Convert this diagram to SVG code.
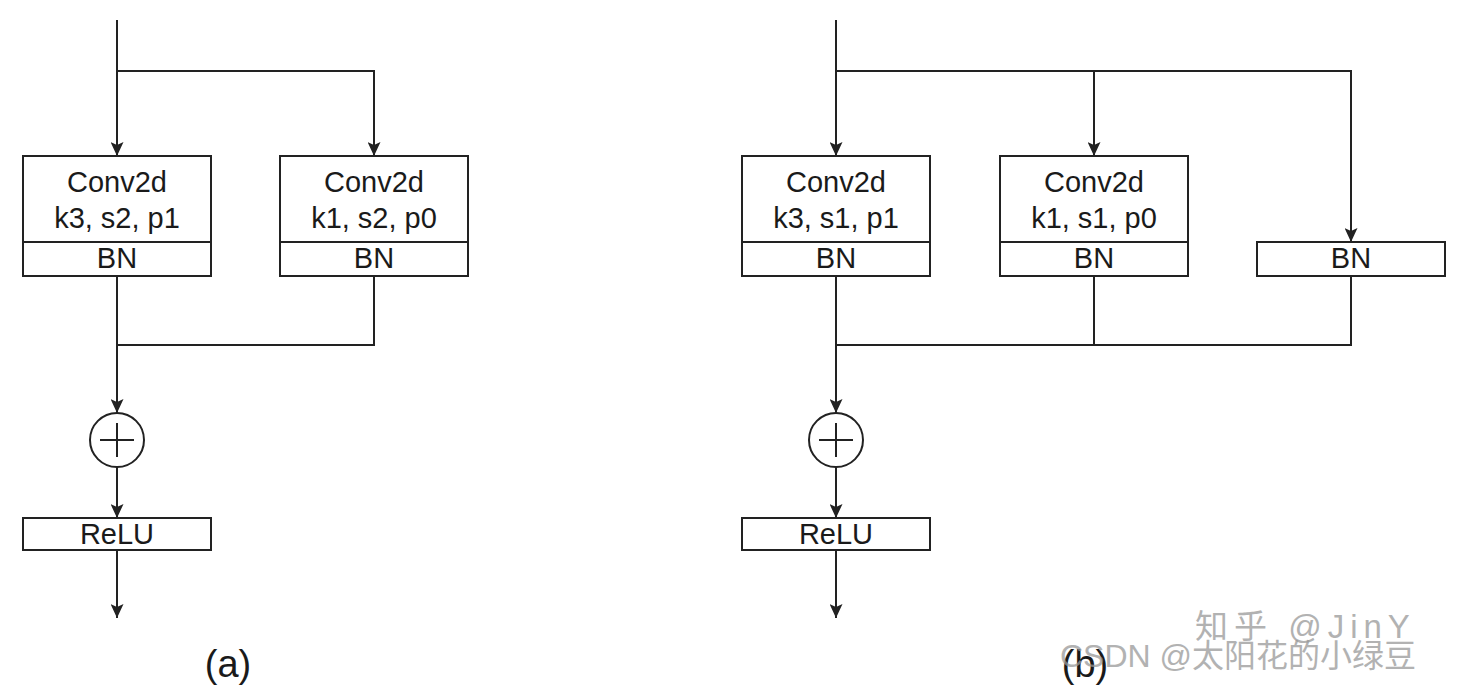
<svg xmlns="http://www.w3.org/2000/svg" width="1462" height="690" viewBox="0 0 1462 690">
<style>
.box{fill:#fff;stroke:#222;stroke-width:2}
.ln{fill:none;stroke:#222;stroke-width:2}
.t{font-family:"Liberation Sans",Arial,sans-serif;font-size:29px;fill:#1a1a1a;text-anchor:middle}
.lab{font-family:"Liberation Sans",Arial,sans-serif;font-size:38px;fill:#1a1a1a;text-anchor:middle}
.wm{font-family:"Liberation Sans","Noto Sans CJK SC",sans-serif;fill:#999;opacity:0.75}
</style>
<defs>
<marker id="ar" viewBox="0 0 14 13" refX="14" refY="6.5" markerWidth="14" markerHeight="13" markerUnits="userSpaceOnUse" orient="auto">
<path d="M0,0 L14,6.5 L0,13 L3,6.5 Z" fill="#222"/>
</marker>
</defs>
<rect width="1462" height="690" fill="#fff"/>
<g id="connectors">
<path class="ln" d="M117,20 V156" marker-end="url(#ar)"/>
<path class="ln" d="M117,71 H374 V156" marker-end="url(#ar)"/>
<path class="ln" d="M117,276 V345"/>
<path class="ln" d="M374,276 V345 H117"/>
<path class="ln" d="M117,345 V413" marker-end="url(#ar)"/>
<path class="ln" d="M117,467 V518" marker-end="url(#ar)"/>
<path class="ln" d="M117,550 V618" marker-end="url(#ar)"/>
<path class="ln" d="M836,20 V156" marker-end="url(#ar)"/>
<path class="ln" d="M836,71 H1351 V242" marker-end="url(#ar)"/>
<path class="ln" d="M1094,71 V156" marker-end="url(#ar)"/>
<path class="ln" d="M836,276 V345"/>
<path class="ln" d="M1094,276 V345"/>
<path class="ln" d="M1351,276 V345 H836"/>
<path class="ln" d="M836,345 V413" marker-end="url(#ar)"/>
<path class="ln" d="M836,467 V518" marker-end="url(#ar)"/>
<path class="ln" d="M836,550 V618" marker-end="url(#ar)"/>
</g>
<g id="a-conv3">
<rect class="box" x="23" y="156" width="188" height="120"/>
<line class="ln" x1="23" y1="242" x2="211" y2="242"/>
<text class="t" x="117" y="192">Conv2d</text>
<text class="t" x="117" y="228">k3, s2, p1</text>
<text class="t" x="117" y="268">BN</text>
</g>
<g id="a-conv1">
<rect class="box" x="280" y="156" width="188" height="120"/>
<line class="ln" x1="280" y1="242" x2="468" y2="242"/>
<text class="t" x="374" y="192">Conv2d</text>
<text class="t" x="374" y="228">k1, s2, p0</text>
<text class="t" x="374" y="268">BN</text>
</g>
<g id="a-add">
<circle class="box" cx="117" cy="440" r="27" stroke-width="2.5"/>
<path class="ln" d="M100,440 H134 M117,423 V457" stroke-width="2.5"/>
</g>
<g id="a-relu">
<rect class="box" x="23" y="518" width="188" height="32"/>
<text class="t" x="117" y="544">ReLU</text>
</g>
<g id="b-conv3">
<rect class="box" x="742" y="156" width="188" height="120"/>
<line class="ln" x1="742" y1="242" x2="930" y2="242"/>
<text class="t" x="836" y="192">Conv2d</text>
<text class="t" x="836" y="228">k3, s1, p1</text>
<text class="t" x="836" y="268">BN</text>
</g>
<g id="b-conv1">
<rect class="box" x="1000" y="156" width="188" height="120"/>
<line class="ln" x1="1000" y1="242" x2="1188" y2="242"/>
<text class="t" x="1094" y="192">Conv2d</text>
<text class="t" x="1094" y="228">k1, s1, p0</text>
<text class="t" x="1094" y="268">BN</text>
</g>
<g id="b-bn">
<rect class="box" x="1257" y="242" width="188" height="34"/>
<text class="t" x="1351" y="268">BN</text>
</g>
<g id="b-add">
<circle class="box" cx="836" cy="440" r="27" stroke-width="2.5"/>
<path class="ln" d="M819,440 H853 M836,423 V457" stroke-width="2.5"/>
</g>
<g id="b-relu">
<rect class="box" x="742" y="518" width="188" height="32"/>
<text class="t" x="836" y="544">ReLU</text>
</g>
<g id="labels">
<text class="lab" x="228" y="677">(a)</text>
<text class="lab" x="1085" y="677">(b)</text>
</g>
<g id="watermarks">
<text class="wm" x="1195" y="638" font-size="33" letter-spacing="6">知乎 @JinY</text>
<text class="wm" x="1060" y="667" font-size="32">CSDN @太阳花的小绿豆</text>
</g>
</svg>
